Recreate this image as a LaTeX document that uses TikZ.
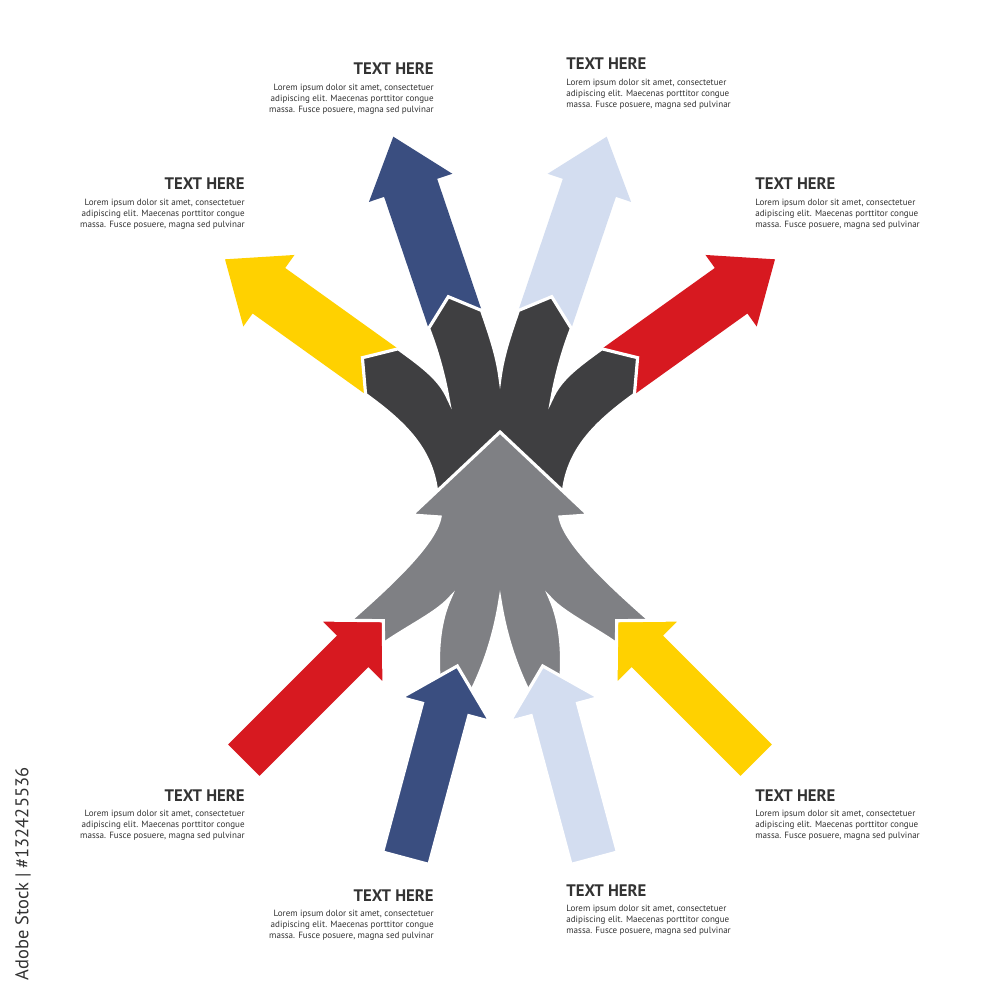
\documentclass[tikz,border=0pt]{standalone}
\usepackage{fontspec}
\setmainfont{PT Sans}
\usetikzlibrary{calc, positioning}

\definecolor{ArrowNavy}{HTML}{3A4E80}
\definecolor{ArrowSky}{HTML}{D3DDF0}
\definecolor{ArrowRed}{HTML}{D71920}
\definecolor{ArrowYellow}{HTML}{FFD100}
\definecolor{HandDark}{HTML}{3F3F41}
\definecolor{HandGray}{HTML}{7F8084}
\definecolor{InkGray}{HTML}{333333}

\newcommand{\loremtext}{Lorem ipsum dolor sit amet, consectetuer\\adipiscing elit. Maecenas porttitor congue\\massa. Fusce posuere, magna sed pulvinar}

% outgoing arrow: colour, tip, angle (notched tail)
\newcommand{\OutArrow}[3]{%
  \fill[#1, shift={(#2)}, rotate=#3] (0,0) -- (-54,44) -- (-54,28) -- (-193,28)
    -- (-169,0) -- (-193,-28) -- (-54,-28) -- (-54,-44) -- cycle;}
% incoming arrow: colour, tip, angle (flat tail)
\newcommand{\InArrow}[3]{%
  \filldraw[fill=#1, WhiteEdge, shift={(#2)}, rotate=#3] (0,0) -- (-45,46) -- (-45,24)
    -- (-199,24) -- (-199,-24) -- (-45,-24) -- (-45,-46) -- cycle;}

\begin{document}
\begin{tikzpicture}[x=0.02cm, y=-0.02cm,
    WhiteEdge/.style={draw=white, line width=1.8pt, line join=miter},
    HeadText/.style={font=\bfseries\fontsize{9.5}{11}\selectfont, text=InkGray, inner sep=0pt},
    BodyText/.style={font=\fontsize{5.15}{6.25}\selectfont, text=InkGray, inner sep=0pt},
  ]
\useasboundingbox[fill=white] (0,0) rectangle (1000,1000);

% arrows leaving the dark hand
\OutArrow{ArrowYellow}{225,259.3}{144.4}
\OutArrow{ArrowNavy}{393.3,136.7}{108.7}
\OutArrow{ArrowSky}{606.7,136.7}{71.3}
\OutArrow{ArrowRed}{775,259.3}{35.6}

% dark hand
\filldraw[fill=HandDark, WhiteEdge] (442,512) -- (437,495)
  .. controls (433,450) and (405,423) .. (365.6,394.4) -- (362.4,357.7) -- (398.2,348.8)
  .. controls (425,368) and (440,380) .. (448,398)
  .. controls (444,375) and (437,350) .. (428.6,328.5) -- (448.3,296.7) -- (481.6,310.5)
  .. controls (490,335) and (497,355) .. (500,378)
  .. controls (503,355) and (510,335) .. (518.4,310.5) -- (551.7,296.7) -- (571.4,328.5)
  .. controls (563,350) and (556,375) .. (552,398)
  .. controls (560,380) and (575,368) .. (601.8,348.8) -- (637.6,357.7) -- (634.4,394.4)
  .. controls (595,423) and (567,450) .. (563,495) -- (558,512) -- cycle;

% gray hand
\filldraw[fill=HandGray, WhiteEdge] (500,432) -- (411.7,515) -- (440,517)
  .. controls (435,545) and (385,590) .. (345,625) -- (372,652)
  .. controls (400,630) and (435,615) .. (450,598)
  .. controls (440,620) and (436,650) .. (440,690) -- (468,698)
  .. controls (488,660) and (496,625) .. (500,600)
  .. controls (504,625) and (512,660) .. (532,698) -- (560,690)
  .. controls (564,650) and (560,620) .. (550,598)
  .. controls (565,615) and (600,630) .. (628,652) -- (655,625)
  .. controls (615,590) and (565,545) .. (560,517) -- (588.3,515) -- cycle;

% arrows entering the gray hand
\InArrow{ArrowRed}{383.3,620.7}{45}
\InArrow{ArrowNavy}{457.3,666}{75}
\InArrow{ArrowSky}{542.7,666}{105}
\InArrow{ArrowYellow}{616.7,620.7}{135}

% texts
\node[HeadText, anchor=base east] (t1) at (434,75) {TEXT HERE};
\node[BodyText, below=5.2pt of t1.base east, anchor=north east, align=right] (b1) {\loremtext};
\node[HeadText, anchor=base west] (t2) at (566,70) {TEXT HERE};
\node[BodyText, below=5.2pt of t2.base west, anchor=north west, align=left] (b2) {\loremtext};
\node[HeadText, anchor=base east] (t3) at (245,190) {TEXT HERE};
\node[BodyText, below=5.2pt of t3.base east, anchor=north east, align=right] (b3) {\loremtext};
\node[HeadText, anchor=base west] (t4) at (755,190) {TEXT HERE};
\node[BodyText, below=5.2pt of t4.base west, anchor=north west, align=left] (b4) {\loremtext};
\node[HeadText, anchor=base east] (t5) at (245,801) {TEXT HERE};
\node[BodyText, below=5.2pt of t5.base east, anchor=north east, align=right] (b5) {\loremtext};
\node[HeadText, anchor=base west] (t6) at (755,801) {TEXT HERE};
\node[BodyText, below=5.2pt of t6.base west, anchor=north west, align=left] (b6) {\loremtext};
\node[HeadText, anchor=base east] (t7) at (434,901) {TEXT HERE};
\node[BodyText, below=5.2pt of t7.base east, anchor=north east, align=right] (b7) {\loremtext};
\node[HeadText, anchor=base west] (t8) at (566,896) {TEXT HERE};
\node[BodyText, below=5.2pt of t8.base west, anchor=north west, align=left] (b8) {\loremtext};

\node[rotate=90, font=\fontsize{10.5}{12}\selectfont, text=InkGray, inner sep=0pt] (stockid) at (23,874) {Adobe Stock | \#132425536};
\end{tikzpicture}
\end{document}
